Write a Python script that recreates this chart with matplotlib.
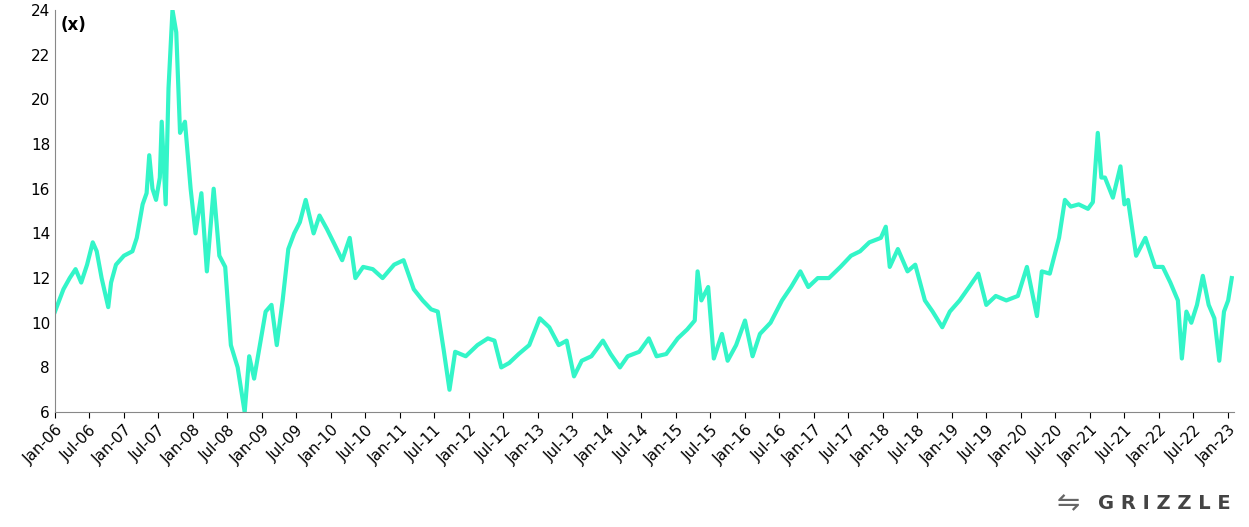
import matplotlib
matplotlib.use("Agg")
import matplotlib.pyplot as plt
import pandas as pd

dates = ["2006-01-01","2006-02-15","2006-03-20","2006-04-20","2006-05-20","2006-06-20","2006-07-20","2006-08-10","2006-09-05","2006-10-10","2006-10-25","2006-11-20","2007-01-01",
 "2007-02-15","2007-03-10","2007-04-10","2007-05-01","2007-05-15","2007-06-01","2007-06-20","2007-07-10","2007-07-20","2007-08-10","2007-08-25","2007-09-15","2007-10-05","2007-10-25","2007-11-20","2007-12-20",
 "2008-01-15","2008-02-15","2008-03-15","2008-04-20","2008-05-20","2008-06-20","2008-07-20","2008-08-25","2008-10-01","2008-10-25","2008-11-20",
 "2009-01-20","2009-02-20","2009-03-20","2009-04-20","2009-05-20","2009-06-20","2009-07-20","2009-08-20","2009-10-01","2009-11-01","2009-12-10",
 "2010-01-20","2010-03-01","2010-04-10","2010-05-10","2010-06-20","2010-08-10","2010-10-01","2010-12-01",
 "2011-01-20","2011-03-15","2011-05-01","2011-06-15","2011-07-20","2011-08-20","2011-09-20","2011-10-20","2011-12-15",
 "2012-02-15","2012-04-10","2012-05-15","2012-06-20","2012-08-01","2012-09-20","2012-11-15",
 "2013-01-10","2013-03-01","2013-04-20","2013-06-01","2013-07-10","2013-08-20","2013-10-10","2013-12-10",
 "2014-01-20","2014-03-10","2014-04-20","2014-06-20","2014-08-10","2014-09-20","2014-11-10",
 "2015-01-10","2015-03-01","2015-04-10","2015-04-25","2015-05-15","2015-06-20","2015-07-20","2015-09-01","2015-10-01","2015-11-15",
 "2016-01-01","2016-02-10","2016-03-20","2016-05-15","2016-07-15","2016-09-01","2016-10-20","2016-12-01",
 "2017-01-20","2017-03-20","2017-05-20","2017-07-15","2017-09-01","2017-10-20","2017-12-20",
 "2018-01-15","2018-02-05","2018-03-20","2018-05-10","2018-06-20","2018-08-10","2018-09-20","2018-11-10","2018-12-20",
 "2019-02-10","2019-04-01","2019-05-20","2019-07-01","2019-08-20","2019-10-15","2019-12-15",
 "2020-02-01","2020-03-01","2020-03-25","2020-04-20","2020-06-01","2020-07-20","2020-08-20","2020-09-20","2020-11-01","2020-12-20",
 "2021-01-15","2021-02-10","2021-03-01","2021-03-20","2021-05-01","2021-06-10","2021-07-01","2021-07-20","2021-09-01","2021-10-20","2021-12-10",
 "2022-01-20","2022-03-01","2022-04-10","2022-05-01","2022-05-25","2022-06-20","2022-07-20","2022-08-20","2022-09-20","2022-10-20","2022-11-15","2022-12-10","2023-01-01","2023-01-20"]
values = [10.5,11.5,12.0,12.4,11.8,12.6,13.6,13.2,12.0,10.7,11.8,12.6,13.0,
 13.2,13.8,15.3,15.8,17.5,16.0,15.5,16.5,19.0,15.3,20.5,24.0,23.0,18.5,19.0,16.0,
 14.0,15.8,12.3,16.0,13.0,12.5,9.0,8.0,6.0,8.5,7.5,
 10.5,10.8,9.0,11.0,13.3,14.0,14.5,15.5,14.0,14.8,14.2,
 13.5,12.8,13.8,12.0,12.5,12.4,12.0,12.6,
 12.8,11.5,11.0,10.6,10.5,8.8,7.0,8.7,8.5,
 9.0,9.3,9.2,8.0,8.2,8.6,9.0,
 10.2,9.8,9.0,9.2,7.6,8.3,8.5,9.2,
 8.6,8.0,8.5,8.7,9.3,8.5,8.6,
 9.3,9.7,10.1,12.3,11.0,11.6,8.4,9.5,8.3,9.0,
 10.1,8.5,9.5,10.0,11.0,11.6,12.3,11.6,
 12.0,12.0,12.5,13.0,13.2,13.6,13.8,
 14.3,12.5,13.3,12.3,12.6,11.0,10.5,9.8,10.5,
 11.0,11.6,12.2,10.8,11.2,11.0,11.2,
 12.5,11.3,10.3,12.3,12.2,13.8,15.5,15.2,15.3,15.1,
 15.4,18.5,16.5,16.5,15.6,17.0,15.3,15.5,13.0,13.8,12.5,
 12.5,11.8,11.0,8.4,10.5,10.0,10.8,12.1,10.8,10.2,8.3,10.5,11.0,12.0]

fig = plt.figure(figsize=(12.49, 5.27), dpi=100)
ax = fig.add_axes([0.044, 0.218, 0.944, 0.763])
ax.plot(pd.to_datetime(dates), values, color="#33F5C8", lw=3)
ax.set_ylim(6, 24)
ax.set_yticks(range(6, 25, 2))
ax.set_xlim(pd.Timestamp("2006-01-01"), pd.Timestamp("2023-02-01"))
ticks = pd.date_range("2006-01-01", "2023-01-01", freq="6MS")
ax.set_xticks(ticks)
ax.set_xticklabels([t.strftime("%b-%y") for t in ticks], rotation=45, ha="right",
                   rotation_mode="anchor", fontsize=11)
ax.tick_params(axis="y", labelsize=11, length=0)
ax.tick_params(axis="x", length=4)
for s in ["top", "right"]:
    ax.spines[s].set_visible(False)
ax.spines["left"].set_color("#888888")
ax.spines["bottom"].set_color("#888888")
ax.text(0.005, 0.985, "(x)", transform=ax.transAxes, fontsize=12, fontweight="bold", va="top")
fig.text(0.985, 0.045, "G R I Z Z L E", ha="right", va="center", fontsize=14, color="#444444", fontweight="bold")
fig.text(0.855, 0.045, "⇋", ha="center", va="center", fontsize=20, color="#666666")
fig.savefig("out.png", dpi=100)
